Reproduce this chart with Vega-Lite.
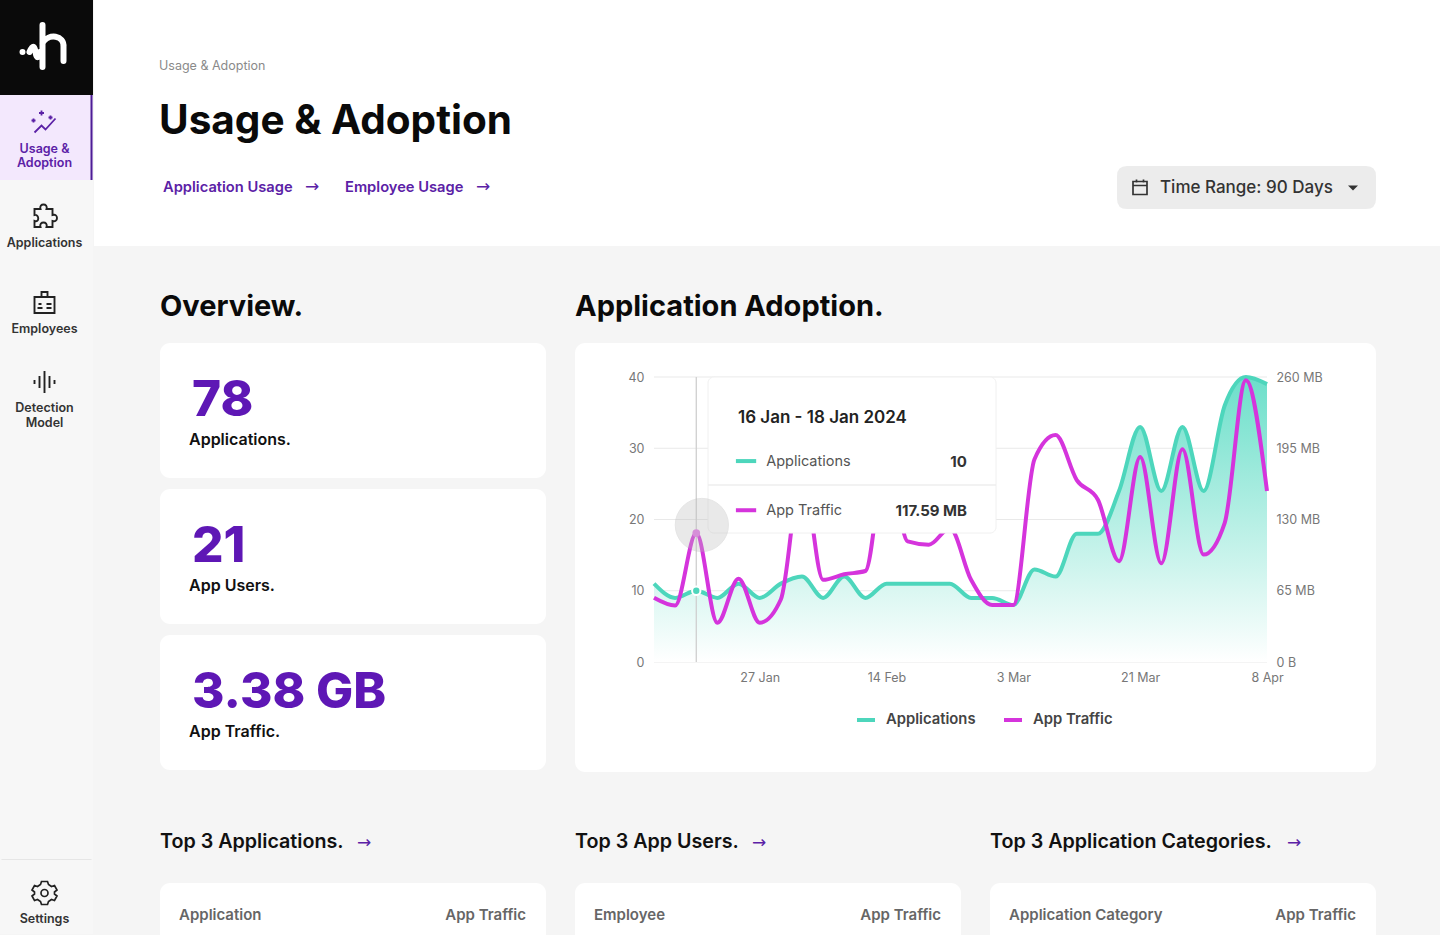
{
"$schema":"https://vega.github.io/schema/vega-lite/v6.json",
"background":"#f5f5f5","padding":{"left":-1,"top":-1,"right":0,"bottom":0},"spacing":0,
"config":{"font":"Inter","view":{"stroke":null},"concat":{"spacing":0},"title":{"font":"Inter"},
 "axis":{"grid":false,"domain":false,"ticks":false,"labelFontSize":12.5,"labelColor":"#777777"}},
"datasets":{"adoption":[
{"date":"2024-01-12T00:00:00","applications":11,"traffic_mb":58.7},
{"date":"2024-01-15T00:00:00","applications":9,"traffic_mb":51.6},
{"date":"2024-01-18T00:00:00","applications":10,"traffic_mb":117.59},
{"date":"2024-01-21T00:00:00","applications":9,"traffic_mb":35.8},
{"date":"2024-01-24T00:00:00","applications":11,"traffic_mb":76},
{"date":"2024-01-27T00:00:00","applications":9,"traffic_mb":35.8},
{"date":"2024-01-30T00:00:00","applications":11,"traffic_mb":57},
{"date":"2024-02-02T00:00:00","applications":12,"traffic_mb":175},
{"date":"2024-02-05T00:00:00","applications":9,"traffic_mb":75},
{"date":"2024-02-08T00:00:00","applications":12,"traffic_mb":80},
{"date":"2024-02-11T00:00:00","applications":9,"traffic_mb":83},
{"date":"2024-02-14T00:00:00","applications":11,"traffic_mb":190},
{"date":"2024-02-17T00:00:00","applications":11,"traffic_mb":110},
{"date":"2024-02-20T00:00:00","applications":11,"traffic_mb":107},
{"date":"2024-02-23T00:00:00","applications":11,"traffic_mb":122},
{"date":"2024-02-26T00:00:00","applications":9,"traffic_mb":75},
{"date":"2024-02-29T00:00:00","applications":9,"traffic_mb":52},
{"date":"2024-03-03T00:00:00","applications":8,"traffic_mb":52},
{"date":"2024-03-06T00:00:00","applications":13,"traffic_mb":185},
{"date":"2024-03-09T00:00:00","applications":12,"traffic_mb":207},
{"date":"2024-03-12T00:00:00","applications":18,"traffic_mb":166},
{"date":"2024-03-15T00:00:00","applications":18,"traffic_mb":148},
{"date":"2024-03-18T00:00:00","applications":24,"traffic_mb":92},
{"date":"2024-03-21T00:00:00","applications":33,"traffic_mb":187},
{"date":"2024-03-24T00:00:00","applications":24,"traffic_mb":90},
{"date":"2024-03-27T00:00:00","applications":33,"traffic_mb":194},
{"date":"2024-03-30T00:00:00","applications":24,"traffic_mb":98},
{"date":"2024-04-02T00:00:00","applications":36,"traffic_mb":127},
{"date":"2024-04-05T00:00:00","applications":40,"traffic_mb":257},
{"date":"2024-04-08T00:00:00","applications":39,"traffic_mb":156}
]},
"hconcat":[
{"spacing":0,"bounds":"flush","vconcat":[
 {"width":93,"height":96,"view":{"fill":"#0a0a0a"},"data":{"values":[{"item":"logo"}]},
  "mark":{"type":"point","shape":"M-24 5 L-24 5 M-17 5 C-14 -2 -12 -2 -11 5 C-10 12 -8 12 -7 5 M-4 -22 L-4 20 M-4 -4 C2 -14 18 -12 17 0 L17 14","size":4,"filled":false,"color":"#ffffff","strokeWidth":6,"strokeCap":"round","opacity":1,"xOffset":0},"encoding":{}},
 {"width":93,"height":85,"view":{"fill":"#f3e8fd"},"data":{"values":[{"item":"Usage &\nAdoption"}]},"layer":[
  {"mark":{"type":"point","shape":"M44 -42.5 H46 V42.5 H44 Z","size":4,"filled":true,"color":"#4c1d95","opacity":1},"encoding":{}},
  {"mark":{"type":"point","shape":"M-10 11 L-3 4 L1 8 L11 -3 M-3 -11 v5 M-5.5 -8.5 h5 M-11 -3 v4 M-13 -1 h4 M6 -6 v4 M4 -4 h4","size":4,"filled":false,"color":"#5b21a6","strokeWidth":1.8,"opacity":1,"yOffset":-16,"xOffset":-2},"encoding":{}},
  {"mark":{"type":"text","lineBreak":"\n","lineHeight":14,"fontSize":12.5,"fontWeight":600,"color":"#5b21a6","dy":11.5,"dx":-2},"encoding":{"text":{"field":"item"}}}
 ]},
 {"width":93,"height":86,"view":{"fill":"#f7f7f7"},"data":{"values":[{"item":"Applications"}]},"layer":[
  {"mark":{"type":"point","shape":"M-10 -6 H-4 C-6 -12 4 -12 2 -6 H8 V0 C14 -2 14 8 8 6 V12 H2 C4 6 -6 6 -4 12 H-10 V6 C-5 8 -5 -1 -10 0 Z","size":4,"filled":false,"color":"#222222","strokeWidth":1.9,"opacity":1,"yOffset":-8,"xOffset":-2},"encoding":{}},
  {"mark":{"type":"text","fontSize":12.5,"fontWeight":600,"color":"#333333","dy":20,"dx":-2},"encoding":{"text":{"field":"item"}}}
 ]},
 {"width":93,"height":86,"view":{"fill":"#f7f7f7"},"data":{"values":[{"item":"Employees"}]},"layer":[
  {"mark":{"type":"point","shape":"M-10 -6 H10 V10 H-10 Z M-3 -6 V-11 H3 V-6 M-7 5 H-2 M-6 1 H-3 M2 1 H7 M2 5 H7","size":4,"filled":false,"color":"#222222","strokeWidth":1.9,"opacity":1,"yOffset":-6,"xOffset":-2},"encoding":{}},
  {"mark":{"type":"text","fontSize":12.5,"fontWeight":600,"color":"#333333","dy":20,"dx":-2},"encoding":{"text":{"field":"item"}}}
 ]},
 {"width":93,"height":87,"view":{"fill":"#f7f7f7"},"data":{"values":[{"item":"Detection\nModel"}]},"layer":[
  {"mark":{"type":"point","shape":"M-10 -2 V2 M-5 -6 V6 M0 -11 V11 M5 -6 V6 M10 -2 V2","size":4,"filled":false,"color":"#222222","strokeWidth":1.9,"opacity":1,"yOffset":-13.5,"xOffset":-2},"encoding":{}},
  {"mark":{"type":"text","lineBreak":"\n","lineHeight":15,"fontSize":12.5,"fontWeight":600,"color":"#333333","dy":12.5,"dx":-2},"encoding":{"text":{"field":"item"}}}
 ]},
 {"width":93,"height":420,"view":{"fill":"#f7f7f7"},"data":{"values":[{"item":"gap"}]},"mark":{"type":"rule","opacity":0},"encoding":{}},
 {"width":93,"height":75,"view":{"fill":"#f7f7f7"},"data":{"values":[{"item":"Settings"}]},"layer":[
  {"mark":{"type":"point","shape":"M-45 -37.5 H45 V-36.5 H-45 Z","size":4,"filled":true,"color":"#e6e6e6","opacity":1},"encoding":{}},
  {"mark":{"type":"point","shape":"M-3.5 0 a3.5 3.5 0 1 0 7 0 a3.5 3.5 0 1 0 -7 0 M-3 -11.5 L3 -11.5 L4 -8.5 L7 -6.5 L10 -7.5 L12.5 -3 L10 -1 L10 1 L12.5 3 L10 7.5 L7 6.5 L4 8.5 L3 11.5 L-3 11.5 L-4 8.5 L-7 6.5 L-10 7.5 L-12.5 3 L-10 1 L-10 -1 L-12.5 -3 L-10 -7.5 L-7 -6.5 L-4 -8.5 Z","size":4,"filled":false,"color":"#222222","strokeWidth":1.7,"opacity":1,"yOffset":-3.5,"xOffset":-2},"encoding":{}},
  {"mark":{"type":"text","fontSize":12.5,"fontWeight":600,"color":"#333333","dy":22.5,"dx":-2},"encoding":{"text":{"field":"item"}}}
 ]}
]},
{"spacing":45,"vconcat":[
 {"width":1347,"height":247,"view":{"fill":"#ffffff"},"layer":[
  {"data":{"values":[{"label":"Usage & Adoption"}]},"mark":{"type":"text","align":"left","fontSize":12.5,"fontWeight":400,"color":"#8a8a8a","letterSpacing":0.5,"dx":-608.5,"dy":-56.5},"encoding":{"text":{"field":"label"}}},
  {"data":{"values":[{"label":"Usage & Adoption"}]},"mark":{"type":"text","align":"left","fontSize":40.5,"fontWeight":700,"color":"#0a0a0a","dx":-608.5,"dy":-0.5},"encoding":{"text":{"field":"label"}}},
  {"data":{"values":[{"label":"Application Usage"}]},"mark":{"type":"text","align":"left","fontSize":14.7,"fontWeight":600,"color":"#5b21a6","dx":-604.5,"dy":65.5},"encoding":{"text":{"field":"label"}}},
  {"data":{"values":[{"label":"→"}]},"mark":{"type":"text","align":"center","font":"DejaVu Sans","fontSize":17,"color":"#5b21a6","dx":-455.5,"dy":64.5},"encoding":{"text":{"field":"label"}}},
  {"data":{"values":[{"label":"Employee Usage"}]},"mark":{"type":"text","align":"left","fontSize":14.7,"fontWeight":600,"color":"#5b21a6","dx":-422.5,"dy":65.5},"encoding":{"text":{"field":"label"}}},
  {"data":{"values":[{"label":"→"}]},"mark":{"type":"text","align":"center","font":"DejaVu Sans","fontSize":17,"color":"#5b21a6","dx":-284.5,"dy":64.5},"encoding":{"text":{"field":"label"}}},
  {"data":{"values":[{"item":"time range button"}]},"mark":{"type":"point","shape":"M-119.5 -21.5 H119.5 Q129.5 -21.5 129.5 -11.5 V11.5 Q129.5 21.5 119.5 21.5 H-119.5 Q-129.5 21.5 -129.5 11.5 V-11.5 Q-129.5 -21.5 -119.5 -21.5 Z","size":4,"filled":true,"color":"#ececec","opacity":1,"xOffset":479,"yOffset":65},"encoding":{}},
  {"data":{"values":[{"item":"calendar"}]},"mark":{"type":"point","shape":"M-7 -6 H7 V7 H-7 Z M-7 -2 H7 M-3.5 -8 V-5 M3.5 -8 V-5","size":4,"filled":false,"color":"#333333","strokeWidth":1.7,"opacity":1,"xOffset":372.5,"yOffset":65},"encoding":{}},
  {"data":{"values":[{"label":"Time Range: 90 Days"}]},"mark":{"type":"text","align":"left","fontSize":17,"fontWeight":500,"color":"#333333","dx":392.5,"dy":65.5},"encoding":{"text":{"field":"label"}}},
  {"data":{"values":[{"item":"caret"}]},"mark":{"type":"point","shape":"M-5 -2 H5 L0 3 Z","size":4,"filled":true,"color":"#333333","opacity":1,"xOffset":585.5,"yOffset":65},"encoding":{}}
 ]},
 {"spacing":0,"hconcat":[
  {"width":65,"height":10,"data":{"values":[{"item":"gap"}]},"mark":{"type":"rule","opacity":0},"encoding":{}},
  {"spacing":59,"vconcat":[
   {"spacing":29,"hconcat":[
    {"spacing":0,"vconcat":[
    {"width":10,"height":1,"data":{"values":[{"item":"gap"}]},"mark":{"type":"rule","opacity":0},"encoding":{}},
    {"title":{"text":"Overview.","anchor":"start","fontSize":29,"fontWeight":700,"color":"#0a0a0a","offset":21},
     "data":{"values":[{"metric":"Applications.","value":"78"},{"metric":"App Users.","value":"21"},{"metric":"App Traffic.","value":"3.38 GB"}]},
     "spacing":11,
     "facet":{"row":{"field":"metric","sort":["Applications.","App Users.","App Traffic."],"header":null,"title":null}},
     "spec":{"width":386,"height":135,"view":{"fill":"#ffffff","cornerRadius":10},"layer":[
      {"mark":{"type":"text","align":"left","fontSize":49.5,"fontWeight":800,"color":"#5e17b5","dx":-161,"dy":-9.5},"encoding":{"text":{"field":"value"}}},
      {"mark":{"type":"text","align":"left","fontSize":16,"fontWeight":600,"color":"#111111","dx":-164,"dy":29},"encoding":{"text":{"field":"metric"}}}
     ]}}
    ]},
    {"spacing":0,"vconcat":[
    {"width":10,"height":1,"data":{"values":[{"item":"gap"}]},"mark":{"type":"rule","opacity":0},"encoding":{}},
    {"width":613,"height":285,
     "title":{"text":"Application Adoption.","anchor":"start","frame":"bounds","fontSize":29,"fontWeight":700,"color":"#0a0a0a","offset":21},
     "data":{"name":"adoption"},
     "resolve":{"scale":{"y":"independent"}},
     "layer":[
      {"layer":[
       {"data":{"values":[{"item":"card"}]},"mark":{"type":"rect","color":"#ffffff","cornerRadius":10},
        "encoding":{"x":{"datum":{"year":2023,"month":"dec","date":31,"hours":19},"type":"temporal","title":null,"scale":{"domain":[{"year":2024,"month":"jan","date":12},{"year":2024,"month":"apr","date":8}]},
          "axis":{"values":[{"year":2024,"month":"jan","date":27},{"year":2024,"month":"feb","date":14},{"year":2024,"month":"mar","date":3},{"year":2024,"month":"mar","date":21},{"year":2024,"month":"apr","date":8}],"format":"%-d %b","labelPadding":9,"labelFlush":false,"labelOverlap":false,"labelBound":false,"zindex":1}},
         "x2":{"datum":{"year":2024,"month":"apr","date":23,"hours":11}},
         "y":{"datum":44.77,"type":"quantitative","title":null,"scale":{"domain":[0,40]},"axis":{"values":[0,10,20,30,40],"labelPadding":10,"zindex":1}},"y2":{"datum":-15.44}}},
       {"data":{"values":[{"tick":0},{"tick":10},{"tick":20},{"tick":30},{"tick":40}]},"mark":{"type":"rule","color":"#e9e9e9","strokeWidth":1.2},
        "encoding":{"y":{"field":"tick","type":"quantitative","title":null}}},
       {"mark":{"type":"area","interpolate":"monotone","opacity":1,"color":{"gradient":"linear","x1":0,"y1":0,"x2":0,"y2":1,"stops":[{"offset":0,"color":"#6cdfca"},{"offset":1,"color":"#ffffff"}]}},
        "encoding":{"x":{"field":"date","type":"temporal","title":null},"y":{"field":"applications","type":"quantitative","title":null}}},
       {"transform":[{"filter":{"field":"date","equal":{"year":2024,"month":"jan","date":18}}}],"mark":{"type":"rule","color":"#cfcfcf","strokeWidth":1.3},"encoding":{"x":{"field":"date","type":"temporal","title":null}}},
       {"mark":{"type":"line","interpolate":"monotone","strokeWidth":4},
        "encoding":{"x":{"field":"date","type":"temporal","title":null},
         "y":{"field":"applications","type":"quantitative","title":null},
         "color":{"datum":"Applications","scale":{"domain":["Applications","App Traffic"],"range":["#4dd6bc","#d534dc"]},
          "legend":{"title":null,"orient":"none","legendX":855,"legendY":710,"direction":"horizontal","columns":2,"columnPadding":20,"symbolType":"stroke","symbolStrokeWidth":4,"symbolSize":324,"labelFontSize":14.8,"labelFontWeight":600,"labelColor":"#444444","labelOffset":9}}}},
       {"transform":[{"filter":{"field":"date","equal":{"year":2024,"month":"jan","date":18}}}],"mark":{"type":"point","filled":true,"size":70,"color":"#4dd6bc","stroke":"#ffffff","strokeWidth":2,"opacity":1},
        "encoding":{"x":{"field":"date","type":"temporal","title":null},"y":{"field":"applications","type":"quantitative","title":null}}}
      ]},
      {"layer":[
       {"mark":{"type":"line","interpolate":"monotone","strokeWidth":4},
        "encoding":{"x":{"field":"date","type":"temporal","title":null},
         "y":{"field":"traffic_mb","type":"quantitative","title":null,"scale":{"domain":[0,260]},"axis":{"orient":"right","values":[0,65,130,195,260],"labelExpr":"datum.value == 0 ? '0 B' : datum.value + ' MB'","labelPadding":9,"zindex":1}},
         "color":{"datum":"App Traffic"}}},
       {"transform":[{"filter":{"field":"date","equal":{"year":2024,"month":"jan","date":18}}}],"mark":{"type":"point","filled":true,"size":60,"color":"#e27ae6","opacity":1},
        "encoding":{"x":{"field":"date","type":"temporal","title":null},"y":{"field":"traffic_mb","type":"quantitative","title":null,"axis":{"orient":"right"}}}}
      ]},
      {"layer":[
       {"data":{"values":[{"item":"tooltip"}]},"mark":{"type":"rect","color":"#ffffff","stroke":"#f0f0f0","cornerRadius":6},
        "encoding":{"x":{"datum":{"year":2024,"month":"jan","date":19,"hours":16},"type":"temporal"},"x2":{"datum":{"year":2024,"month":"feb","date":29,"hours":13}},
         "y":{"datum":40,"type":"quantitative","axis":null,"scale":{"domain":[0,40]}},"y2":{"datum":18.1}}},
       {"data":{"values":[{"item":"divider"}]},"mark":{"type":"rule","color":"#eeeeee","strokeWidth":1.5},
        "encoding":{"x":{"datum":{"year":2024,"month":"jan","date":19,"hours":16},"type":"temporal"},"x2":{"datum":{"year":2024,"month":"feb","date":29,"hours":13}},"y":{"datum":24.84,"type":"quantitative","axis":null}}},
       {"data":{"values":[{"label":"16 Jan - 18 Jan 2024"}]},"mark":{"type":"text","align":"left","fontSize":17,"fontWeight":600,"color":"#222222"},
        "encoding":{"text":{"field":"label"},"x":{"datum":{"year":2024,"month":"jan","date":23,"hours":22},"type":"temporal"},"y":{"datum":34.2,"type":"quantitative","axis":null}}},
       {"data":{"values":[{"label":"Applications"}]},"mark":{"type":"text","align":"left","fontSize":14.5,"color":"#555555"},
        "encoding":{"text":{"field":"label"},"x":{"datum":{"year":2024,"month":"jan","date":27,"hours":22},"type":"temporal"},"y":{"datum":28.1,"type":"quantitative","axis":null}}},
       {"data":{"values":[{"label":"10"}]},"mark":{"type":"text","align":"right","fontSize":15,"fontWeight":700,"color":"#333333"},
        "encoding":{"text":{"field":"label"},"x":{"datum":{"year":2024,"month":"feb","date":25,"hours":10},"type":"temporal"},"y":{"datum":28.1,"type":"quantitative","axis":null}}},
       {"data":{"values":[{"label":"App Traffic"}]},"mark":{"type":"text","align":"left","fontSize":14.5,"color":"#555555"},
        "encoding":{"text":{"field":"label"},"x":{"datum":{"year":2024,"month":"jan","date":27,"hours":22},"type":"temporal"},"y":{"datum":21.2,"type":"quantitative","axis":null}}},
       {"data":{"values":[{"label":"117.59 MB"}]},"mark":{"type":"text","align":"right","fontSize":15,"fontWeight":700,"color":"#333333"},
        "encoding":{"text":{"field":"label"},"x":{"datum":{"year":2024,"month":"feb","date":25,"hours":10},"type":"temporal"},"y":{"datum":21.2,"type":"quantitative","axis":null}}},
       {"data":{"values":[{"item":"swatch"}]},"mark":{"type":"rule","color":"#4dd6bc","strokeWidth":4},
        "encoding":{"x":{"datum":{"year":2024,"month":"jan","date":23,"hours":15},"type":"temporal"},"x2":{"datum":{"year":2024,"month":"jan","date":26,"hours":12}},"y":{"datum":28.2,"type":"quantitative","axis":null}}},
       {"data":{"values":[{"item":"swatch"}]},"mark":{"type":"rule","color":"#d534dc","strokeWidth":4},
        "encoding":{"x":{"datum":{"year":2024,"month":"jan","date":23,"hours":15},"type":"temporal"},"x2":{"datum":{"year":2024,"month":"jan","date":26,"hours":12}},"y":{"datum":21.3,"type":"quantitative","axis":null}}},
       {"data":{"values":[{"item":"halo"}]},"mark":{"type":"circle","size":2830,"color":"#bdbdbd","opacity":0.32,"stroke":"#b0b0b0","strokeWidth":1},
        "encoding":{"x":{"datum":{"year":2024,"month":"jan","date":18,"hours":19},"type":"temporal"},"y":{"datum":19.23,"type":"quantitative","axis":null}}}
      ]}
     ]}
    ]}
   ]},
   {"spacing":29,"hconcat":[
    {"width":386,"height":52,"title":{"text":"Top 3 Applications.","anchor":"start","fontSize":19.7,"fontWeight":600,"color":"#111111","offset":-18},"data":{"values":[{"name":"Application","measure":"App Traffic"}]},"layer":[
     {"mark":{"type":"rect","color":"#ffffff","cornerRadiusTopLeft":10,"cornerRadiusTopRight":10},"encoding":{}},
     {"mark":{"type":"text","align":"left","fontSize":15,"fontWeight":600,"color":"#666666","dx":-174,"dy":6},"encoding":{"text":{"field":"name"}}},
     {"mark":{"type":"text","align":"right","fontSize":15,"fontWeight":600,"color":"#666666","dx":173,"dy":6},"encoding":{"text":{"field":"measure"}}},
     {"data":{"values":[{"label":"→"}]},"mark":{"type":"text","font":"DejaVu Sans","fontSize":17,"color":"#5b21a6","dx":11,"dy":-66},"encoding":{"text":{"field":"label"}}}
    ]},
    {"width":386,"height":52,"title":{"text":"Top 3 App Users.","anchor":"start","fontSize":19.7,"fontWeight":600,"color":"#111111","offset":-18},"data":{"values":[{"name":"Employee","measure":"App Traffic"}]},"layer":[
     {"mark":{"type":"rect","color":"#ffffff","cornerRadiusTopLeft":10,"cornerRadiusTopRight":10},"encoding":{}},
     {"mark":{"type":"text","align":"left","fontSize":15,"fontWeight":600,"color":"#666666","dx":-174,"dy":6},"encoding":{"text":{"field":"name"}}},
     {"mark":{"type":"text","align":"right","fontSize":15,"fontWeight":600,"color":"#666666","dx":173,"dy":6},"encoding":{"text":{"field":"measure"}}},
     {"data":{"values":[{"label":"→"}]},"mark":{"type":"text","font":"DejaVu Sans","fontSize":17,"color":"#5b21a6","dx":-9,"dy":-66},"encoding":{"text":{"field":"label"}}}
    ]},
    {"width":386,"height":52,"title":{"text":"Top 3 Application Categories.","anchor":"start","fontSize":19.7,"fontWeight":600,"color":"#111111","offset":-18},"data":{"values":[{"name":"Application Category","measure":"App Traffic"}]},"layer":[
     {"mark":{"type":"rect","color":"#ffffff","cornerRadiusTopLeft":10,"cornerRadiusTopRight":10},"encoding":{}},
     {"mark":{"type":"text","align":"left","fontSize":15,"fontWeight":600,"color":"#666666","dx":-174,"dy":6},"encoding":{"text":{"field":"name"}}},
     {"mark":{"type":"text","align":"right","fontSize":15,"fontWeight":600,"color":"#666666","dx":173,"dy":6},"encoding":{"text":{"field":"measure"}}},
     {"data":{"values":[{"label":"→"}]},"mark":{"type":"text","font":"DejaVu Sans","fontSize":17,"color":"#5b21a6","dx":111,"dy":-66},"encoding":{"text":{"field":"label"}}}
    ]}
   ]}
  ]}
 ]}
]}
]
}
